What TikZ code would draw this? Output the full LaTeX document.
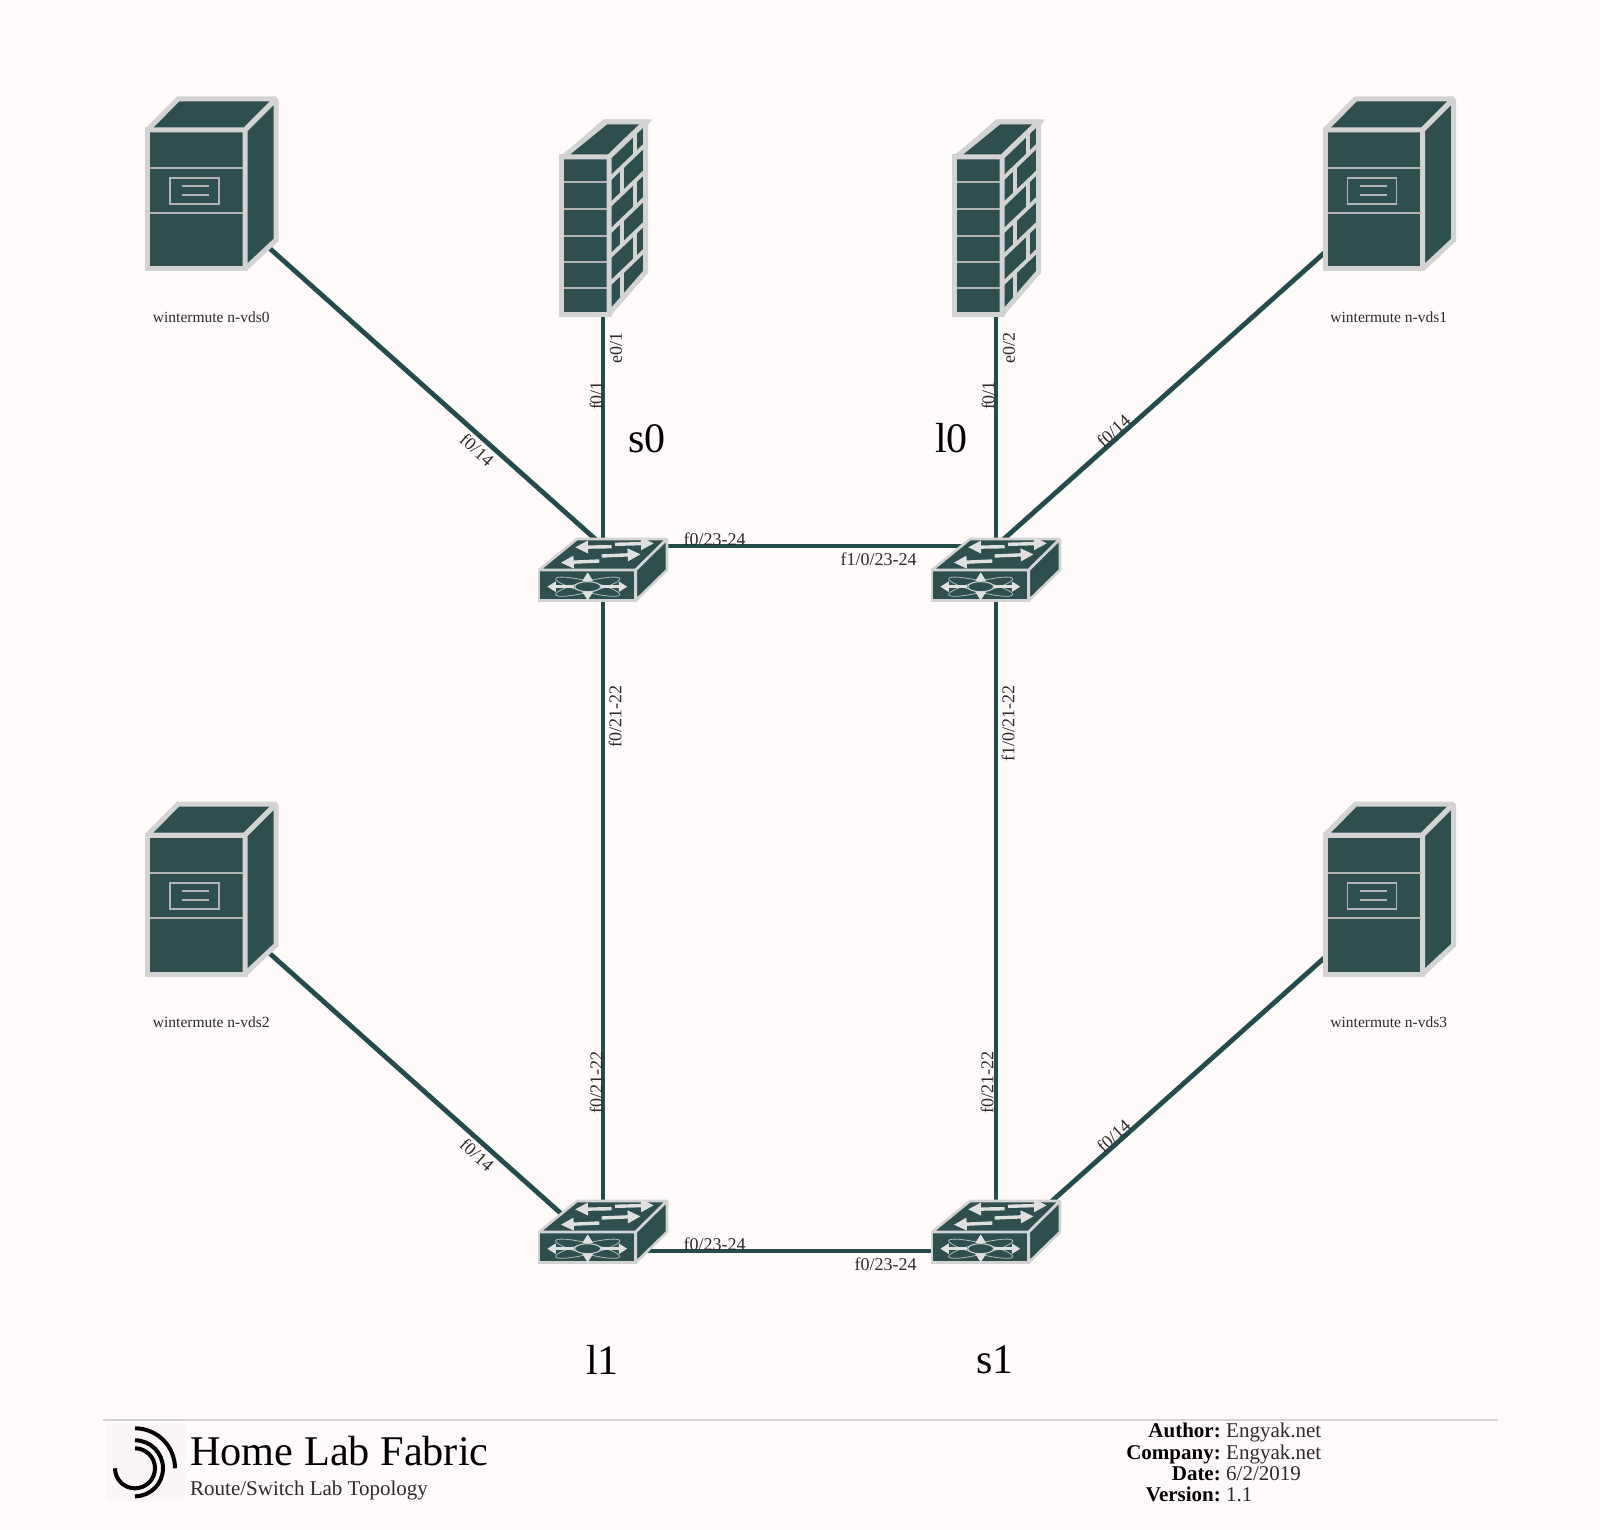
\documentclass[tikz,border=0pt]{standalone}
\usepackage{fontspec}
\setmainfont{Liberation Serif}
\usetikzlibrary{arrows.meta}
\definecolor{bgc}{HTML}{FFFBFA}
\definecolor{devfill}{HTML}{2F4F4F}
\definecolor{linkc}{HTML}{244C4C}
\definecolor{devline}{HTML}{D3D3D3}
\definecolor{txtc}{HTML}{2A2A2A}
\newcommand{\fsz}[1]{\fontsize{#1}{#1}\selectfont}
\tikzset{
  link/.style={draw=linkc,line width=4.8pt},
  face/.style={fill=devfill,draw=devline,line width=5pt,line join=miter,miter limit=1.5},
  swface/.style={fill=devfill,draw=devline,line width=2.6pt,line join=miter,miter limit=1.5},
  mortar/.style={draw=devline,line width=3.8pt},
  thinl/.style={draw=devline!85!black,line width=1.4pt},
  swarrow/.style={draw=devline!70!white,line width=3.4pt,-{Triangle[length=13pt,width=12pt,fill=devline!70!white]}},
  fwarrow/.style={draw=devline!70!white,line width=3pt,-{Triangle[length=8.5pt,width=10pt,fill=devline!70!white]}},
  petal/.style={draw=devline!80!devfill,line width=.8pt},
  portlabel/.style={font=\fsz{18},text=txtc,inner sep=0pt},
  hostlabel/.style={font=\fsz{15.5},text=txtc,inner sep=0pt},
  biglabel/.style={font=\fsz{42},text=black,inner sep=0pt},
  metakey/.style={font=\fsz{21}\bfseries,text=black,inner sep=0pt,anchor=base east},
  metaval/.style={font=\fsz{21},text=txtc,inner sep=0pt,anchor=base west},
  serverpic/.pic={
    \path[face] (147.5,130) rectangle (245,269);
    \path[face] (147.5,130) -- (178,99) -- (276,99) -- (245,130) -- cycle;
    \path[face] (245,130) -- (276,99) -- (276,240) -- (245,269) -- cycle;
    \draw[thinl] (150,168) -- (243,168);
    \draw[thinl] (150,213) -- (243,213);
    \draw[thinl] (170,178) rectangle (219,204);
    \draw[thinl] (182,186) -- (209,186);
    \draw[thinl] (182,195) -- (209,195);
  },
  firewallpic/.pic={
    \fill[devline] (558,159.5) -- (603,119.5) -- (652,119.5) -- (648,125) -- (612,159.5) -- cycle;
    \path[face] (561.7,157) rectangle (609,314);
    \path[face] (563,157) -- (606,122) -- (645.5,122) -- (609,157) -- cycle;
    \path[face] (609,157) -- (645.5,122) -- (645.5,272) -- (609,314) -- cycle;
    \foreach \yy in {182,209,236,262,288} \draw[thinl,line width=1.6pt] (564,\yy) -- (607,\yy);
    \foreach \yy in {179.5,206,232.5,257.5,284.5}
      \draw[mortar] (609,\yy) -- (645.5,{\yy-35});
    \draw[mortar] (635,132) -- (635,154.5);
    \draw[mortar] (622.3,166.7) -- (622.3,193.2);
    \draw[mortar] (635,181) -- (635,207.5);
    \draw[mortar] (622.3,219.7) -- (622.3,244.7);
    \draw[mortar] (635,232.5) -- (635,259.5);
    \draw[mortar] (622.3,271.7) -- (622.3,299);
  },
  switchpic/.pic={
    \path[swface] (539,570) rectangle (635.7,600.5);
    \path[swface] (539,570) -- (577,539) -- (667,539) -- (635.7,570) -- cycle;
    \path[swface] (635.7,570) -- (667,539) -- (667,570) -- (635.7,600.5) -- cycle;
    \draw[swarrow] (611.7,546.7) -- (575,547.3);
    \draw[swarrow] (615,544.3) -- (654,543.3);
    \draw[swarrow] (599.3,561) -- (560.7,562.7);
    \draw[swarrow] (601.7,556) -- (640.7,554.3);
    \draw[petal,rotate around={14:(587.7,586.7)}] (587.7,586.7) ellipse (33 and 5.5);
    \draw[petal,rotate around={-14:(587.7,586.7)}] (587.7,586.7) ellipse (33 and 5.5);
    \draw[fwarrow] (574,586.7) -- (547.3,586.7);
    \draw[fwarrow] (601,586.7) -- (627.3,586.7);
    \draw[fwarrow] (587.7,582) -- (587.7,572.3);
    \draw[fwarrow] (587.7,591) -- (587.7,600.5);
    \draw[draw=devline,fill=devfill,line width=1pt] (587.7,586.7) ellipse (13 and 5);
  },
}
\begin{document}
\begin{tikzpicture}[x=1pt,y=-1pt]
\fill[bgc] (0,0) rectangle (1600,1530);
% connection points
\coordinate (srv0) at (211,196);
\coordinate (srv1) at (1388,196);
\coordinate (srv2) at (211,901);
\coordinate (srv3) at (1388,901);
\coordinate (fw0) at (603,314);
\coordinate (fw1) at (996,314);
\coordinate (sw0) at (603,546);
\coordinate (leaf0) at (996,546);
\coordinate (leaf1) at (603,1251);
\coordinate (sw1) at (996,1251);
% connectors
\draw[link] (srv0) -- (sw0);
\draw[link] (srv1) -- (leaf0);
\draw[link] (srv2) -- (leaf1);
\draw[link] (srv3) -- (sw1);
\draw[link] (fw0) -- (sw0);
\draw[link] (fw1) -- (leaf0);
\draw[link] (sw0) -- (leaf0);
\draw[link] (sw0) -- (leaf1);
\draw[link] (leaf0) -- (sw1);
\draw[link] (leaf1) -- (sw1);
% devices
\pic at (0,0) {serverpic};
\pic at (1177.5,0) {serverpic};
\pic at (0,705) {serverpic};
\pic at (1177.5,705) {serverpic};
\pic at (0,0) {firewallpic};
\pic at (393,0) {firewallpic};
\pic at (0,0) {switchpic};
\pic at (393,0) {switchpic};
\pic at (0,662) {switchpic};
\pic at (393,662) {switchpic};
% host labels
\node[hostlabel] (h0) at (211.3,317) {wintermute n-vds0};
\node[hostlabel] (h1) at (1388.8,317) {wintermute n-vds1};
\node[hostlabel] (h2) at (211.3,1022) {wintermute n-vds2};
\node[hostlabel] (h3) at (1388.8,1022) {wintermute n-vds3};
% big labels
\node[biglabel] (ns0) at (647,439) {s0};
\node[biglabel] (nl0) at (951.5,438.5) {l0};
\node[biglabel] (nl1) at (602.5,1360) {l1};
\node[biglabel] (ns1) at (995,1360) {s1};
% port labels
\node[portlabel,rotate=90] (p1) at (616,348) {e0/1};
\node[portlabel,rotate=90] (p2) at (596,395.5) {f0/1};
\node[portlabel,rotate=90] (p3) at (1009,348) {e0/2};
\node[portlabel,rotate=90] (p4) at (988,395.5) {f0/1};
\node[portlabel,rotate=-42] (p5) at (477,450) {f0/14};
\node[portlabel,rotate=42] (p6) at (1113.5,431) {f0/14};
\node[portlabel] (p7) at (714.5,539) {f0/23-24};
\node[portlabel] (p8) at (878.5,559.5) {f1/0/23-24};
\node[portlabel,rotate=90] (p9) at (615,716) {f0/21-22};
\node[portlabel,rotate=90] (p10) at (1008,723) {f1/0/21-22};
\node[portlabel,rotate=90] (p11) at (596,1082.5) {f0/21-22};
\node[portlabel,rotate=90] (p12) at (987,1082.5) {f0/21-22};
\node[portlabel,rotate=-42] (p13) at (477,1155) {f0/14};
\node[portlabel,rotate=42] (p14) at (1113.5,1136) {f0/14};
\node[portlabel] (p15) at (714.5,1244) {f0/23-24};
\node[portlabel] (p16) at (885.5,1264.5) {f0/23-24};
% footer
\draw[devline,line width=1.6pt] (103,1420) -- (1498,1420);
\fill[bgc!98.5!black] (107,1423) rectangle (185,1502);
\draw[black,line width=4pt] (135,1428.3) arc[start angle=90,end angle=0,x radius=40,y radius=-40];
\draw[black,line width=4pt] (135,1440.3) arc[start angle=90,end angle=-90,x radius=28,y radius=-28];
\draw[black,line width=4pt] (115,1468.3) arc[start angle=180,end angle=450,x radius=20,y radius=-20];
\node[font=\fsz{42.3},text=black,inner sep=0pt,anchor=base west] (title) at (190,1465) {Home Lab Fabric};
\node[font=\fsz{21},text=txtc,inner sep=0pt,anchor=base west] (subtitle) at (190,1495) {Route/Switch Lab Topology};
\node[metakey] (k1) at (1221,1437.5) {Author:};
\node[metaval] (v1) at (1226,1437.5) {Engyak.net};
\node[metakey] (k2) at (1221,1459) {Company:};
\node[metaval] (v2) at (1226,1459) {Engyak.net};
\node[metakey] (k3) at (1221,1480) {Date:};
\node[metaval] (v3) at (1226,1480) {6/2/2019};
\node[metakey] (k4) at (1221,1501.5) {Version:};
\node[metaval] (v4) at (1226,1501.5) {1.1};
\end{tikzpicture}
\end{document}
